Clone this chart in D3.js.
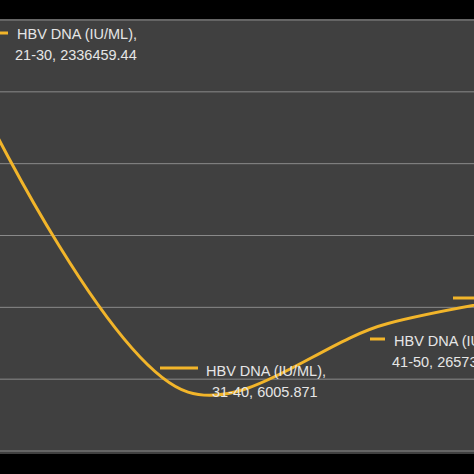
<!DOCTYPE html>
<html><head><meta charset="utf-8">
<script src="https://cdn.jsdelivr.net/npm/d3@7"></script>
<style>body{margin:0;background:#000}</style>
</head><body>
<svg id="chart" width="474" height="474"></svg>
<script>
// age groups and HBV DNA values (51-60 lies off the cropped edge, estimated)
const groups=["21-30","31-40","41-50","51-60"];
const hbv=[2336459.44,6005.871,265731,512000];
const labels=["HBV DNA (IU/ML),","21-30, 2336459.44","31-40, 6005.871","41-50, 265731"];

let svg=d3.select("#chart");

let x=d3.scalePoint().domain(groups).range([-12,588]);
let y=d3.scalePow().exponent(0.6).domain([0,2336459.44]).range([400,118]);
let grid=d3.scaleLinear().domain([0,6]).range([20,451]);

svg.append("rect").attr("x",0).attr("y",19).attr("width",474).attr("height",435).attr("fill","#404040");

svg.append("g").selectAll("line")
  .data(d3.range(7))
  .enter().append("line")
  .attr("x1",0).attr("x2",474)
  .attr("y1",d=>grid(d)).attr("y2",d=>grid(d))
  .attr("stroke","#8a8a8a").attr("stroke-width",1);

let line=d3.line()
  .x((d,i)=>x(groups[i]))
  .y(d=>y(d))
  .curve(d3.curveCatmullRom.alpha(0.5));

svg.append("path")
  .datum(hbv)
  .attr("fill","none")
  .attr("stroke","#f2b52a")
  .attr("stroke-width",3)
  .attr("d",line);

// callout labels
let callouts=[
  {lx1:0,lx2:8,ly:33,tx:17,ty:39,t1:labels[0],t2:labels[1],tx2:15},
  {lx1:160,lx2:198,ly:368,tx:206,ty:376,t1:labels[0],t2:labels[2],tx2:212},
  {lx1:370,lx2:385,ly:339,tx:394,ty:346,t1:labels[0],t2:labels[3],tx2:392},
  {lx1:453,lx2:480,ly:298,tx:500,ty:304,t1:"",t2:"",tx2:500}
];
let g=svg.append("g");
callouts.forEach(c=>{
  g.append("line").attr("x1",c.lx1).attr("x2",c.lx2).attr("y1",c.ly).attr("y2",c.ly)
    .attr("stroke","#f2b52a").attr("stroke-width",3);
  g.append("text").attr("x",c.tx).attr("y",c.ty).text(c.t1)
    .attr("fill","#e6e6e6").attr("font-family","Liberation Sans, sans-serif").attr("font-size",14.5);
  g.append("text").attr("x",c.tx2).attr("y",c.ty+21).text(c.t2)
    .attr("fill","#e6e6e6").attr("font-family","Liberation Sans, sans-serif").attr("font-size",14.5);
});
</script>
</body></html>
